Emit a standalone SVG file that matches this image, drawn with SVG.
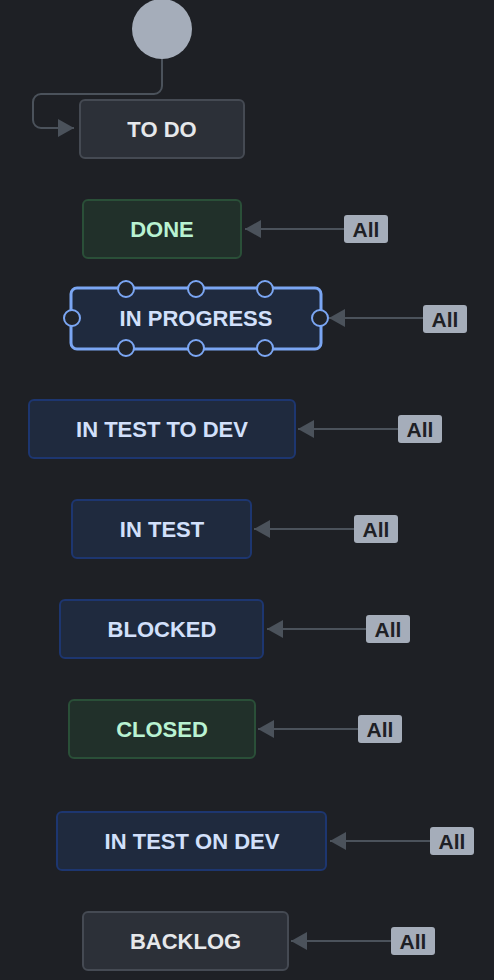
<svg xmlns="http://www.w3.org/2000/svg" width="494" height="980" viewBox="0 0 494 980">
<style>
.bg{fill:#1e2025}
.n rect{stroke-width:2}
.gray rect{fill:#2c3038;stroke:#454a53}
.green rect{fill:#21302a;stroke:#2a4f38}
.blue rect{fill:#1f2a3e;stroke:#1d3670}
.sel rect{fill:#1f2a3e;stroke:#7ba6f3;stroke-width:3}
text{font-family:"Liberation Sans",Arial,sans-serif;font-weight:bold;font-size:22px;text-anchor:middle;dominant-baseline:central}
.gray text{fill:#e6e8eb}
.green text{fill:#b9f2d2}
.blue text,.sel text{fill:#d2e0fb}
.lab rect{fill:#a5adba}
.lab text{fill:#1e2025;font-size:21px}
.c{fill:none;stroke:#4b525b;stroke-width:2}
.h{fill:#202329;stroke:#7ba6f3;stroke-width:2}
</style>
<defs>
<marker id="ah" markerWidth="16" markerHeight="18" refX="16" refY="9" orient="auto" markerUnits="userSpaceOnUse">
<path d="M0,0 L16,9 L0,18 Z" fill="#4b525b"/>
</marker>
</defs>
<rect class="bg" x="0" y="0" width="494" height="980"/>
<g id="connectors">
<path class="c" d="M162,59 V86 a8,8 0 0 1 -8,8 H41 a8,8 0 0 0 -8,8 V120 a8,8 0 0 0 8,8 H74" marker-end="url(#ah)"/>
<path class="c" d="M344,229 H245" marker-end="url(#ah)"/>
<path class="c" d="M423,318 H329" marker-end="url(#ah)"/>
<path class="c" d="M398,429 H298" marker-end="url(#ah)"/>
<path class="c" d="M354,529 H254" marker-end="url(#ah)"/>
<path class="c" d="M366,629 H267" marker-end="url(#ah)"/>
<path class="c" d="M358,729 H258" marker-end="url(#ah)"/>
<path class="c" d="M430,841 H330" marker-end="url(#ah)"/>
<path class="c" d="M391,941 H291" marker-end="url(#ah)"/>
</g>
<g id="start"><circle cx="162" cy="29" r="30" fill="#a5adba"/></g>
<g id="todo" class="n gray"><rect x="80" y="100" width="164" height="58" rx="5"/><text x="162" y="129">TO DO</text></g>
<g id="done" class="n green"><rect x="83" y="200" width="158" height="58" rx="5"/><text x="162" y="229">DONE</text></g>
<g id="inprogress" class="n sel"><rect x="71" y="288" width="250" height="61" rx="6"/><text x="196" y="318">IN PROGRESS</text>
<circle class="h" cx="126" cy="289" r="8"/><circle class="h" cx="196" cy="289" r="8"/><circle class="h" cx="265" cy="289" r="8"/>
<circle class="h" cx="126" cy="348" r="8"/><circle class="h" cx="196" cy="348" r="8"/><circle class="h" cx="265" cy="348" r="8"/>
<circle class="h" cx="72" cy="318" r="8"/><circle class="h" cx="320" cy="318" r="8"/></g>
<g id="intesttodev" class="n blue"><rect x="29" y="400" width="266" height="58" rx="5"/><text x="162" y="429">IN TEST TO DEV</text></g>
<g id="intest" class="n blue"><rect x="72" y="500" width="179" height="58" rx="5"/><text x="162" y="529">IN TEST</text></g>
<g id="blocked" class="n blue"><rect x="60" y="600" width="203" height="58" rx="5"/><text x="162" y="629">BLOCKED</text></g>
<g id="closed" class="n green"><rect x="69" y="700" width="186" height="58" rx="5"/><text x="162" y="729">CLOSED</text></g>
<g id="intestondev" class="n blue"><rect x="57" y="812" width="269" height="58" rx="5"/><text x="192" y="841">IN TEST ON DEV</text></g>
<g id="backlog" class="n gray"><rect x="83" y="912" width="205" height="58" rx="5"/><text x="185.5" y="941">BACKLOG</text></g>
<g id="labels">
<g class="lab"><rect x="344" y="215" width="44" height="28" rx="3"/><text x="366" y="229">All</text></g>
<g class="lab"><rect x="423" y="305" width="44" height="28" rx="3"/><text x="445" y="319">All</text></g>
<g class="lab"><rect x="398" y="415" width="44" height="28" rx="3"/><text x="420" y="429">All</text></g>
<g class="lab"><rect x="354" y="515" width="44" height="28" rx="3"/><text x="376" y="529">All</text></g>
<g class="lab"><rect x="366" y="615" width="44" height="28" rx="3"/><text x="388" y="629">All</text></g>
<g class="lab"><rect x="358" y="715" width="44" height="28" rx="3"/><text x="380" y="729">All</text></g>
<g class="lab"><rect x="430" y="827" width="44" height="28" rx="3"/><text x="452" y="841">All</text></g>
<g class="lab"><rect x="391" y="927" width="44" height="28" rx="3"/><text x="413" y="941">All</text></g>
</g>
</svg>
